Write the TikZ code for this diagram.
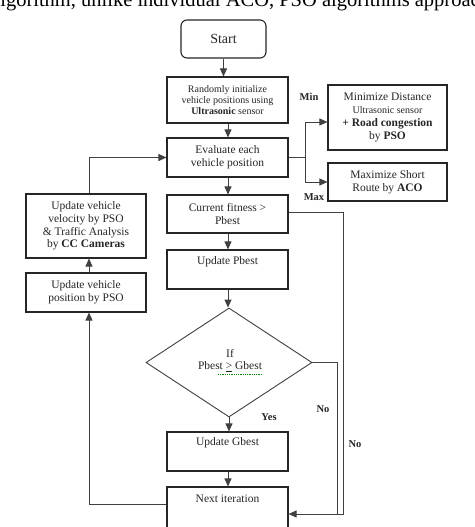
\documentclass[tikz,border=0pt]{standalone}
\usepackage{fontspec}
\setmainfont{Liberation Serif}
\usetikzlibrary{arrows.meta,shapes.geometric}
\begin{document}
\begin{tikzpicture}[x=1pt,y=-1pt,
  box/.style={draw=black!85, line width=1.1pt, rectangle, inner sep=0pt, align=center, text=black!85, font=\fontsize{11.5}{13}\selectfont},
  conn/.style={draw=black!75, line width=0.9pt},
  arr/.style={conn, -{Triangle[length=8pt,width=7pt]}},
  lbl/.style={font=\bfseries\fontsize{10.5}{12}\selectfont, inner sep=0pt, text=black!85},
  txt/.style={font=\fontsize{11.5}{13}\selectfont, inner sep=0pt, text=black!85}]
\useasboundingbox (0,0) rectangle (474,527);
\clip (0,0) rectangle (474,527);
\fill[white] (0,0) rectangle (474,527);
% caption fragment at top
\node[anchor=base west, inner sep=0pt, font=\fontsize{20.5}{24}\selectfont] (cap) at (-9,7) {algorithm, unlike individual ACO, PSO algorithms approach};
% main column
\node[box, rounded corners=6pt, minimum width=85pt, minimum height=38pt, font=\fontsize{14}{16}\selectfont] (start) at (223.5,39) {Start};
\node[box, minimum width=121pt, minimum height=46pt, font=\fontsize{10}{11}\selectfont] (rand) at (227.5,100) {Randomly initialize\\vehicle positions using\\\textbf{Ultrasonic} sensor};
\node[box, minimum width=121pt, minimum height=39pt] (eval) at (227.5,157.5) {Evaluate each\\vehicle position};
\node[box, minimum width=121pt, minimum height=38pt] (cur) at (227.5,214) {Current fitness >\\Pbest};
\node[box, minimum width=121pt, minimum height=39pt] (pb) at (227.5,269.5) {};
\node[txt] (pbt) at (227.5,262) {Update Pbest};
\node[draw=black!75, line width=0.9pt, diamond, minimum width=166pt, minimum height=109pt, inner sep=0pt] (dec) at (229,362.5) {};
\node[txt] (dift) at (230,353) {If};
\node[txt] (dect) at (230,367) {Pbest \underline{>} Gbest};
\draw[green!55!black, densely dotted, line width=0.8pt] (218,374) -- (262,374);
\node[box, minimum width=121pt, minimum height=39pt] (gb) at (227.5,451.5) {};
\node[txt] (gbt) at (227.5,443) {Update Gbest};
\node[box, minimum width=121pt, minimum height=55pt] (next) at (227.5,514.5) {};
\node[txt] (nextt) at (227.5,499) {Next iteration};
% right boxes
\node[box, minimum width=119pt, minimum height=65pt] (mind) at (387.5,117.5) {Minimize Distance\\{\fontsize{10}{13}\selectfont Ultrasonic sensor}\\\textbf{+ Road congestion}\\by \textbf{PSO}};
\node[box, minimum width=119pt, minimum height=38pt] (maxr) at (387.5,182) {Maximize Short\\Route by \textbf{ACO}};
% left boxes
\node[box, minimum width=120pt, minimum height=64pt, font=\fontsize{11.5}{12.7}\selectfont] (vel) at (86,226) {Update vehicle\\velocity by PSO\\\& Traffic Analysis\\by \textbf{CC Cameras}};
\node[box, minimum width=120pt, minimum height=39pt] (pos) at (86,292.5) {Update vehicle\\position by PSO};
% coordinates
\coordinate (col) at (228,0);
\coordinate (br) at (305,157.5);
\coordinate (ya) at (0,122);
\coordinate (yc) at (0,212);
\coordinate (r1) at (343,514);
\coordinate (r2) at (337,514);
\coordinate (yl) at (0,504);
\coordinate (xl) at (89,0);
% main arrows
\draw[arr] (start.south) -- (start.south |- rand.north);
\draw[arr] (rand.south -| col) -- (eval.north -| col);
\draw[arr] (eval.south -| col) -- (cur.north -| col);
\draw[arr] (cur.south -| col) -- (pb.north -| col);
\draw[arr] (pb.south -| col) -- (dec.north -| col);
\draw[arr] (dec.south) -- (gb.north -| dec.south);
\draw[arr] (gb.south -| col) -- (next.north -| col);
% min / max branch
\draw[conn] (eval.east) -- (br);
\draw[arr] (br) |- (mind.west |- ya);
\draw[arr] (br) |- (maxr.west);
% No loops
\draw[conn] (cur.east |- yc) -| (r1) -- (r2);
\draw[conn] (dec.east) -| (r2);
\draw[arr] (r2) -- (next.east |- r2);
% left loop
\draw[arr] (next.west |- yl) -| (pos.south -| xl);
\draw[arr] (pos.north -| xl) -- (vel.south -| xl);
\draw[arr] (vel.north -| xl) |- (eval.west);
% labels
\node[lbl] (lmin) at (309,97) {Min};
\node[lbl] (lmax) at (314,197) {Max};
\node[lbl] (lyes) at (269,417) {Yes};
\node[lbl] (lno1) at (323,409) {No};
\node[lbl] (lno2) at (355,444) {No};
\end{tikzpicture}
\end{document}
